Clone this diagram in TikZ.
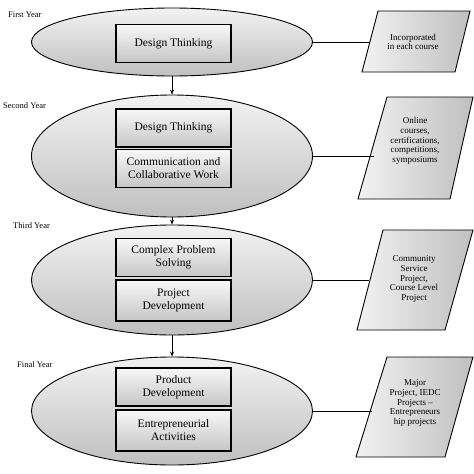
\documentclass[tikz,border=0pt]{standalone}
\usepackage{fontspec}
\setmainfont{Liberation Serif}
\usetikzlibrary{shapes.geometric,arrows.meta}
\tikzset{
  yearell/.style={ellipse, draw, line width=0.9pt, minimum width=281, top color=gray!10, bottom color=gray!50},
  stagebox/.style={draw, line width=1.3pt, minimum width=115, minimum height=38, align=center, top color=gray!6, bottom color=gray!45, font=\fontsize{11.5}{13}\selectfont, inner sep=1pt},
  parshape/.style={draw, line width=0.9pt, left color=gray!10, right color=gray!50},
  partext/.style={align=center, font=\fontsize{9}{9.8}\selectfont},
  yearlabel/.style={anchor=west, font=\fontsize{8.5}{10}\selectfont, inner sep=0pt},
  link/.style={line width=0.8pt},
  flow/.style={line width=0.8pt, -{Stealth[length=5pt,width=4pt]}}
}
\begin{document}
\begin{tikzpicture}[x=1pt,y=-1pt]
\useasboundingbox (0,0) rectangle (474,474);

% ellipses
\node[yearell, minimum height=68] (e1) at (172,42) {};
\node[yearell, minimum height=122] (e2) at (172,156) {};
\node[yearell, minimum height=110] (e3) at (172,280) {};
\node[yearell, minimum height=108] (e4) at (172,411) {};

% boxes
\node[stagebox] (b1) at (173.5,43.5) {Design Thinking};
\node[stagebox] (b2a) at (173.5,128) {Design Thinking};
\node[stagebox] (b2b) at (173.5,168.5) {Communication and\\Collaborative Work};
\node[stagebox] (b3a) at (173.5,257.5) {Complex Problem\\Solving};
\node[stagebox, minimum height=41] (b3b) at (173.5,300.5) {Project\\Development};
\node[stagebox] (b4a) at (173.5,387) {Product\\Development};
\node[stagebox, minimum height=41] (b4b) at (173.5,430.5) {Entrepreneurial\\Activities};

% year labels
\node[yearlabel] (y1) at (8,15) {First Year};
\node[yearlabel] (y2) at (3,106) {Second Year};
\node[yearlabel] (y3) at (13,226) {Third Year};
\node[yearlabel] (y4) at (17,365) {Final Year};

% parallelograms
\path[parshape] (378,11) -- (470,11) -- (455,72) -- (362,72) -- cycle;
\coordinate (p1) at (370,42);
\node[partext] (t1) at (413,42) {Incorporated\\in each course};

\path[parshape] (387,97) -- (473,97) -- (450,199) -- (358,199) -- cycle;
\coordinate (p2) at (374,156);
\node[partext] (t2) at (415,141) {Online\\courses,\\certifications,\\competitions,\\symposiums};

\path[parshape] (383,230) -- (473,230) -- (445,330) -- (357,330) -- cycle;
\coordinate (p3) at (369,280);
\node[partext] (t3) at (414,279) {Community\\Service\\Project,\\Course Level\\Project};

\path[parshape] (387,357) -- (473,357) -- (445,457) -- (356,457) -- cycle;
\coordinate (p4) at (372,411);
\node[partext] (t4) at (415,403) {Major\\Project, IEDC\\Projects --\\Entrepreneurs\\hip projects};

% connectors
\draw[link] (e1.east) -- (p1);
\draw[link] (e2.east) -- (p2);
\draw[link] (e3.east) -- (p3);
\draw[link] (e4.east) -- (p4);

\draw[flow] (e1.south) -- (e2.north);
\draw[flow] (e2.south) -- (e3.north);
\draw[flow] (e3.south) -- (e4.north);
\end{tikzpicture}
\end{document}
